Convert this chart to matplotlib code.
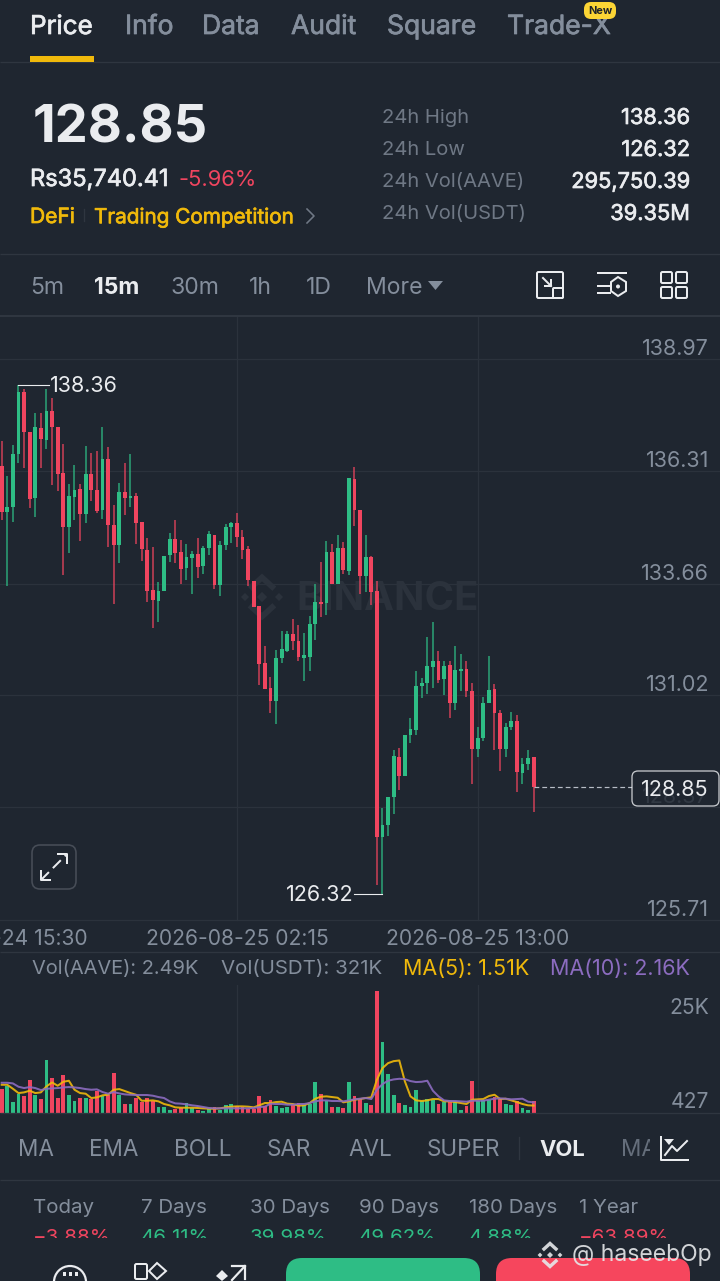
import matplotlib
matplotlib.use('Agg')
import matplotlib.pyplot as plt
import matplotlib.patheffects as pe
from matplotlib.patches import FancyBboxPatch, Polygon, Rectangle, Circle

plt.rcParams['font.family'] = ['Inter', 'DejaVu Sans']

# candles, 15m, oldest first
opens = [136.44, 135.36, 135.46, 136.72, 138.19, 137.25, 135.67, 137.33, 137.06, 137.73, 137.37, 136.27,
         134.99, 135.70, 135.90, 135.30, 136.25, 135.87, 135.40, 136.60, 135.04, 134.56, 135.83, 135.67,
         135.73, 135.12, 134.45, 133.51, 133.24, 133.49, 134.33, 134.71, 134.40, 134.02, 134.27, 134.36,
         134.08, 134.50, 134.81, 133.63, 134.57, 134.99, 135.10, 134.76, 134.47, 133.73, 133.12, 131.78,
         131.18, 130.89, 131.89, 132.07, 132.47, 132.31, 131.91, 131.93, 132.71, 133.23, 133.21, 134.41,
         133.64, 134.49, 133.95, 136.13, 135.40, 133.84, 134.29, 133.49, 127.68, 127.95, 128.62, 129.57,
         129.12, 130.09, 130.20, 131.24, 131.31, 131.68, 131.83, 131.40, 131.74, 130.83, 131.60, 131.64,
         131.12, 129.75, 130.01, 130.83, 131.16, 130.61, 129.75, 130.27, 130.40, 129.19, 129.39, 129.55]
closes = [135.36, 135.46, 136.72, 138.19, 137.25, 135.65, 137.35, 137.07, 137.73, 137.37, 136.25, 134.99,
          135.72, 135.87, 135.31, 136.25, 135.86, 135.38, 136.60, 135.05, 134.57, 135.83, 135.67, 135.72,
          135.10, 134.47, 133.49, 133.26, 133.49, 134.31, 134.71, 134.39, 134.01, 134.29, 134.36, 134.06,
          134.51, 134.83, 133.63, 134.57, 134.99, 135.10, 134.75, 134.46, 133.75, 133.10, 131.76, 131.17,
          130.89, 131.89, 132.11, 132.47, 132.31, 131.93, 131.97, 132.70, 133.23, 133.18, 134.41, 133.64,
          134.50, 133.97, 136.15, 135.40, 133.84, 134.29, 133.47, 127.68, 127.95, 128.62, 129.59, 129.12,
          130.08, 130.22, 131.24, 131.32, 131.70, 131.83, 131.39, 131.72, 130.83, 131.62, 131.65, 131.11,
          129.75, 130.01, 130.83, 131.15, 130.60, 129.75, 130.28, 130.41, 129.21, 129.40, 129.53, 128.85]
highs = [137.02, 136.20, 136.94, 138.36, 138.25, 137.25, 137.69, 137.69, 138.25, 138.04, 137.37, 136.96,
         136.01, 136.46, 136.02, 136.92, 136.74, 136.80, 137.35, 136.88, 135.52, 136.03, 136.50, 136.72,
         135.81, 135.12, 134.73, 134.53, 133.70, 134.31, 134.85, 135.16, 134.68, 134.60, 134.42, 134.73,
         134.55, 134.90, 134.81, 134.66, 135.06, 135.12, 135.32, 134.93, 134.55, 133.73, 133.12, 132.19,
         131.45, 132.09, 132.53, 132.53, 132.82, 132.68, 132.49, 132.90, 133.65, 134.16, 134.67, 134.59,
         134.80, 134.65, 136.15, 136.41, 135.40, 134.80, 134.31, 133.72, 128.35, 128.62, 129.73, 129.77,
         130.08, 130.48, 131.60, 131.42, 132.39, 132.76, 132.06, 131.83, 131.84, 132.19, 131.99, 131.83,
         131.31, 130.26, 130.98, 131.95, 131.28, 130.68, 130.36, 130.63, 130.55, 129.53, 129.73, 129.56]
lows = [135.16, 133.59, 135.11, 136.52, 136.40, 135.44, 135.23, 136.40, 136.85, 136.00, 135.85, 133.86,
        134.38, 135.16, 134.67, 135.10, 135.60, 135.32, 135.18, 134.52, 133.17, 134.14, 135.28, 135.48,
        134.59, 134.20, 133.23, 132.62, 132.74, 133.49, 134.16, 134.14, 133.65, 133.75, 133.41, 133.80,
        133.89, 134.34, 133.54, 133.36, 134.45, 134.61, 134.53, 134.24, 133.61, 133.10, 131.25, 131.17,
        130.61, 130.34, 131.78, 132.04, 132.09, 131.82, 131.36, 131.60, 132.33, 132.86, 132.91, 133.64,
        133.64, 133.89, 133.86, 135.02, 133.42, 133.46, 133.15, 126.53, 126.32, 127.69, 128.21, 128.78,
        129.12, 129.89, 130.08, 130.95, 131.05, 131.19, 131.31, 131.03, 130.47, 130.68, 131.11, 130.98,
        128.91, 129.55, 129.93, 130.83, 129.73, 129.24, 129.56, 130.20, 128.73, 128.93, 129.25, 128.26]

# volume in thousands of AAVE
volumes = [4.87, 5.55, 2.30, 3.86, 3.52, 6.77, 3.59, 2.78, 10.83, 7.11, 3.05, 7.79,
           3.72, 2.44, 3.05, 3.05, 2.91, 4.40, 3.52, 3.72, 8.12, 3.72, 1.90, 1.90,
           3.05, 2.23, 3.05, 2.37, 1.29, 1.22, 0.68, 0.88, 1.02, 2.03, 1.02, 0.68,
           0.47, 0.88, 1.29, 0.68, 1.69, 1.83, 1.35, 1.15, 0.74, 0.81, 3.45, 1.35,
           2.57, 1.49, 1.02, 1.29, 1.69, 2.03, 1.56, 1.83, 6.30, 3.86, 2.37, 1.22,
           1.29, 1.08, 6.23, 3.39, 2.84, 2.03, 1.56, 24.85, 14.56, 7.92, 3.59, 2.10,
           1.69, 1.22, 4.67, 2.37, 2.91, 2.71, 1.90, 2.23, 2.23, 2.37, 0.68, 1.35,
           6.57, 2.37, 2.71, 2.71, 3.18, 2.91, 1.90, 1.69, 2.37, 1.08, 0.68, 2.49]
ma5 = [5.75, 5.75, 4.94, 4.06, 4.20, 4.54, 4.06, 4.20, 5.42, 6.23, 5.55, 6.36,
       6.57, 4.74, 4.06, 3.93, 3.05, 3.18, 3.59, 3.72, 4.74, 4.87, 4.47, 4.06,
       3.72, 2.50, 2.50, 2.57, 2.37, 1.83, 1.56, 1.15, 1.08, 1.08, 1.08, 1.02,
       0.95, 0.88, 0.88, 0.95, 1.15, 1.29, 1.35, 1.35, 1.29, 1.15, 1.56, 2.03,
       2.03, 2.23, 2.30, 1.90, 1.83, 1.49, 1.56, 2.03, 2.91, 3.32, 3.39, 3.25,
       3.11, 2.17, 2.37, 2.71, 2.84, 3.05, 3.18, 6.77, 9.14, 10.16, 10.56, 10.70,
       6.43, 3.39, 2.57, 2.44, 2.57, 2.84, 2.84, 2.37, 2.37, 2.23, 2.03, 1.83,
       2.71, 2.78, 2.84, 3.45, 3.72, 2.84, 2.91, 2.57, 2.23, 1.83, 1.56, 1.51]
ma10 = [6.16, 6.16, 6.03, 5.35, 5.08, 5.28, 5.08, 4.67, 4.94, 5.01, 5.08, 5.21,
        5.28, 5.21, 5.08, 4.87, 4.74, 4.81, 4.27, 3.93, 4.27, 3.99, 3.79, 3.72,
        3.66, 3.66, 3.66, 3.52, 3.25, 3.05, 2.37, 1.96, 1.90, 1.76, 1.56, 1.42,
        1.22, 1.02, 0.95, 0.95, 0.95, 0.95, 0.95, 0.95, 0.95, 1.02, 1.22, 1.29,
        1.90, 1.83, 1.83, 1.69, 1.69, 1.83, 1.83, 2.03, 2.37, 2.57, 2.57, 2.44,
        2.44, 2.37, 2.57, 2.78, 2.91, 3.05, 2.84, 4.74, 5.89, 6.57, 6.84, 6.97,
        6.91, 6.50, 6.30, 6.36, 6.57, 4.54, 3.39, 2.57, 2.44, 2.44, 2.37, 2.30,
        2.50, 2.50, 2.50, 2.71, 2.91, 2.98, 2.91, 2.78, 2.84, 2.91, 2.30, 2.16]

price_ticks = [138.97, 136.31, 133.66, 131.02, 128.37, 125.71]
time_ticks = [-1, 42, 85]
time_labels = ['2026-08-24 15:30', '2026-08-25 02:15', '2026-08-25 13:00']
last_price = 128.85

tabs = ['Price', 'Info', 'Data', 'Audit', 'Square', 'Trade-X']
tab_x = [30, 125, 202, 291, 387, 507]
stat_names = ['24h High', '24h Low', '24h Vol(AAVE)', '24h Vol(USDT)']
stat_values = ['138.36', '126.32', '295,750.39', '39.35M']
intervals = ['5m', '15m', '30m', '1h', '1D', 'More']
interval_x = [30, 94, 171, 249, 306, 366]
indicators = ['MA', 'EMA', 'BOLL', 'SAR', 'AVL', 'SUPER', 'VOL', 'MA']
indicator_x = [18, 89, 174, 267, 348, 427, 539, 621]
periods = ['Today', '7 Days', '30 Days', '90 Days', '180 Days', '1 Year']
period_x = [33, 141, 250, 359, 469, 579]
period_changes = ['-3.88%', '46.11%', '39.98%', '49.62%', '4.88%', '-63.89%']

BG = '#1f2630'
GRID = '#2b323c'
LINE = '#2f3640'
GREEN = '#2ebd85'
RED = '#f0455f'
YELLOW = '#f0b90b'
PURPLE = '#8c6cc0'
WHITE = '#eaecef'
GREY = '#848e9c'
DIM = '#6f7885'

W, H = 720, 1281
fig = plt.figure(figsize=(W / 72, H / 72), dpi=72, facecolor=BG)


def panel(top, bottom, z):
    ax = fig.add_axes([0, 1 - bottom / H, 1, (bottom - top) / H], zorder=z)
    ax.patch.set_alpha(0)
    ax.axis('off')
    ax.set_xlim(-0.30, 128.27)
    return ax


def pixel_axes(z):
    ax = fig.add_axes([0, 0, 1, 1], zorder=z)
    ax.patch.set_alpha(0)
    ax.axis('off')
    ax.set_xlim(0, W)
    ax.set_ylim(H, 0)
    return ax


idx = range(len(opens))
colors = [GREEN if c >= o else RED for o, c in zip(opens, closes)]

# watermark sits under the candles
back = pixel_axes(1)
ui = pixel_axes(3)

# price panel
ax1 = panel(317, 952, 2)
ax1.set_ylim(124.95, 139.96)
for p in price_ticks:
    ax1.axhline(p, color=GRID, lw=1.3, zorder=1)
    ax1.annotate(f'{p:.2f}', (1, p), xycoords=('axes fraction', 'data'), xytext=(-11, 10),
                 textcoords='offset points', ha='right', va='center', fontsize=21.5, color=GREY)
for t in time_ticks[1:]:
    ax1.plot([t, t], [125.71, 139.96], color=GRID, lw=1.3, zorder=1)
for t, lab in zip(time_ticks, time_labels):
    ax1.annotate(lab, (t, 125.71), xytext=(0, -19), textcoords='offset points', ha='center',
                 va='center', fontsize=21, color=GREY, annotation_clip=False)

ax1.vlines(idx, lows, highs, colors=colors, lw=1.5, zorder=3, alpha=0.85)
ax1.bar(idx, [abs(c - o) for o, c in zip(opens, closes)], bottom=[min(o, c) for o, c in zip(opens, closes)],
        width=0.66, color=colors, zorder=4)

# high / low markers
i_hi = highs.index(max(highs))
i_lo = lows.index(min(lows))
ax1.plot([i_hi, i_hi + 5.4], [highs[i_hi]] * 2, color=WHITE, lw=1.1, zorder=5)
ax1.annotate(f'{highs[i_hi]:.2f}', (i_hi + 5.7, highs[i_hi]), xytext=(0, -1), textcoords='offset points',
             va='center', ha='left', fontsize=21.5, color=WHITE, zorder=5)
ax1.plot([i_lo - 5.1, i_lo], [lows[i_lo]] * 2, color=WHITE, lw=1.1, zorder=5)
ax1.annotate(f'{lows[i_lo]:.2f}', (i_lo - 5.2, lows[i_lo]), xytext=(0, -1), textcoords='offset points',
             va='center', ha='right', fontsize=21.5, color=WHITE, zorder=5)

# last price line
ax1.plot([95, 112.5], [last_price, last_price], color='#b7bdc6', lw=1.2, ls=(0, (4, 2.5)), zorder=5)

# volume panel
ax2 = panel(985, 1113, 2)
ax2.set_ylim(0, 26.07)
for t in time_ticks[1:]:
    ax2.axvline(t, color=GRID, lw=1.3, zorder=1)
ax2.bar(idx, volumes, width=0.66, color=colors, zorder=3)
ax2.plot(idx, ma5, color=YELLOW, lw=2, zorder=4, alpha=0.9)
ax2.plot(idx, ma10, color=PURPLE, lw=2, zorder=5, alpha=0.9)


def txt(x, y, s, size=20, color=GREY, ha='left', weight='normal', z=5, alpha=None, medium=False, ax=None):
    t = (ax or ui).text(x, y + 2, s, fontsize=size, color=color, ha=ha, va='center', weight=weight,
                        zorder=z, alpha=alpha)
    if medium:
        # no medium weight on hand, thicken the regular face a little
        t.set_path_effects([pe.withStroke(linewidth=0.7, foreground=color)])


def hline(y, x0=0, x1=W, lw=1.3, color=LINE):
    ui.plot([x0, x1], [y, y], color=color, lw=lw, zorder=2, solid_capstyle='butt')


def box(x0, y0, x1, y1, r=3, fc='none', ec=WHITE, lw=2, z=6, alpha=None):
    ui.add_patch(FancyBboxPatch((x0, y0), x1 - x0, y1 - y0, boxstyle=f'round,pad=0,rounding_size={r}',
                                fc=fc, ec=ec, lw=lw, zorder=z, alpha=alpha))


def logo(ax, cx, cy, s, color, z=3, alpha=None):
    # binance style diamond mark
    for dx, dy, r in [(0, 0, s * 0.3), (-s, 0, s * 0.24), (s, 0, s * 0.24)]:
        ax.add_patch(Polygon([(cx + dx, cy - r), (cx + dx + r, cy), (cx + dx, cy + r), (cx + dx - r, cy)],
                             fc=color, ec='none', zorder=z, alpha=alpha))
    for sgn in (-1, 1):
        ax.plot([cx - s * 0.6, cx, cx + s * 0.6], [cy + sgn * s * 0.6, cy + sgn * s * 1.15, cy + sgn * s * 0.6],
                color=color, lw=s * 0.34, zorder=z, alpha=alpha, solid_joinstyle='miter')


logo(back, 262, 597, 17, '#2b323c', z=1)
txt(296, 597, 'BINANCE', size=40, color='#2b323c', weight='bold', z=1, ax=back)

# tabs
for name, x in zip(tabs, tab_x):
    if name == 'Price':
        txt(x, 25, name, size=26, color=WHITE, medium=True)
    else:
        txt(x, 25, name, size=26.5, color=GREY, medium=True)
ui.add_patch(Rectangle((30, 56), 64, 6, fc=YELLOW, ec='none', zorder=4))
box(584, 2, 616, 19, r=7, fc='#fcd535', ec='none', lw=0)
txt(600, 9, 'New', size=11, color='#1e2329', ha='center', weight='bold', z=7)
hline(62)
hline(254)
hline(316, lw=2)
hline(952)
hline(1113)
hline(1180)

# headline numbers
txt(33, 127, '128.85', size=52.5, color=WHITE, weight='bold')
txt(30, 178, 'Rs35,740.41', size=23.6, color=WHITE, medium=True)
txt(178, 178, '-5.96%', size=22, color=RED)
txt(30, 215, 'DeFi', size=21, color=YELLOW, medium=True)
ui.plot([84, 84], [209, 221], color=LINE, lw=1.3)
txt(94, 215, 'Trading Competition', size=20.7, color=YELLOW, medium=True)
ui.plot([307, 314, 307], [209, 216, 223], color=DIM, lw=1.6)
for k, (name, val) in enumerate(zip(stat_names, stat_values)):
    txt(382, 116 + 32 * k, name, size=20.2, color=DIM)
    txt(690, 116 + 32 * k, val, size=21.8, color=WHITE, ha='right', medium=True)

# interval row
for name, x in zip(intervals, interval_x):
    if name == '15m':
        txt(x, 286, name, size=23, color=WHITE, weight='bold')
    else:
        txt(x, 286, name, size=23, color=GREY)
ui.add_patch(Polygon([(428, 281), (443, 281), (435.5, 290)], fc=GREY, ec='none', zorder=5))

box(537, 272, 563, 298, r=1.5)
box(553, 288, 563, 298, r=1, fc=BG)
ui.plot([543, 551], [278, 286], color=WHITE, lw=2, zorder=7)
ui.plot([545, 551, 551], [286, 286, 280], color=WHITE, lw=2, zorder=7)
ui.plot([598, 626], [273, 273], color=WHITE, lw=2)
ui.plot([598, 610], [286, 286], color=WHITE, lw=2)
ui.plot([598, 610], [293, 293], color=WHITE, lw=2)
ui.add_patch(Polygon([(618, 277), (626, 282), (626, 291), (618, 296), (611, 291), (611, 282)],
                     fc='none', ec=WHITE, lw=2, zorder=6))
ui.add_patch(Circle((618, 286.5), 2, fc=WHITE, ec='none', zorder=6))
for bx, by in [(661, 272), (676, 272), (661, 287), (676, 287)]:
    box(bx, by, bx + 11, by + 11, r=1.5)

# expand button
box(32, 845, 76, 889, r=8, fc=BG, ec='#474d57', lw=1.6)
ui.plot([41, 67], [880, 854], color=WHITE, lw=2, ls=(0, (5.6, 2.8)), zorder=7)
ui.plot([58, 67, 67], [854, 854, 863], color=WHITE, lw=2, zorder=7)
ui.plot([41, 41, 50], [871, 880, 880], color=WHITE, lw=2, zorder=7)

# last price tag
box(632, 771, 719, 806, r=6, fc=BG, ec=WHITE, lw=1.3, alpha=0.82)
txt(709, 788, '128.85', size=21.5, color=WHITE, ha='right', z=7)

# volume legend
txt(32, 967, 'Vol(AAVE): 2.49K', size=20)
txt(221, 967, 'Vol(USDT): 321K', size=20.5)
txt(403, 967, 'MA(5): 1.51K', size=21.5, color=YELLOW)
txt(550, 967, 'MA(10): 2.16K', size=21.5, color=PURPLE)
txt(709, 1006, '25K', size=21, ha='right')
txt(709, 1100, '427', size=21, ha='right')

# indicator row
for k, (name, x) in enumerate(zip(indicators, indicator_x)):
    if name == 'VOL':
        txt(x, 1148, name, size=22, color=WHITE, weight='bold')
    elif k == len(indicators) - 1:
        txt(x, 1148, name, size=22.5, color=GREY, alpha=0.7)
    else:
        txt(x, 1148, name, size=22.5)
ui.plot([519, 519], [1137, 1159], color=LINE, lw=1.3)
ui.add_patch(Rectangle((650, 1130), 42, 36, fc=BG, ec='none', zorder=6))
ui.plot([661, 661, 688], [1137, 1160, 1160], color=WHITE, lw=2, zorder=7)
ui.plot([665, 672, 677, 687], [1155, 1146, 1151, 1141], color=WHITE, lw=2, zorder=7)
ui.add_patch(Polygon([(664, 1139), (674, 1139), (669, 1145)], fc=WHITE, ec='none', zorder=7))

# returns row, second line is cut by the action bar
for name, x, change in zip(periods, period_x, period_changes):
    txt(x, 1206, name, size=20.5, color=GREY)
    txt(x, 1236, change.replace('-', '\u2212'), size=20.5, color=RED if change[0] == '-' else GREEN, z=4)
ui.add_patch(Rectangle((0, 1238), W, 43, fc=BG, ec='none', zorder=5))

# action bar, runs off the bottom
box(286, 1258, 480, 1300, r=16, fc='#2ebd85', ec='none', lw=0)
box(496, 1258, 690, 1300, r=16, fc='#f6465d', ec='none', lw=0)
ui.add_patch(Circle((70, 1282), 16, fc='none', ec=WHITE, lw=2.2, zorder=6, clip_on=True))
for dx in (-6, 0, 6):
    ui.add_patch(Rectangle((70 + dx - 1.5, 1272), 3, 4, fc=WHITE, ec='none', zorder=6))
box(135, 1264, 147, 1279, r=1.5)
ui.add_patch(Polygon([(157, 1263), (166, 1271), (157, 1279), (149, 1271)], fc='none', ec=WHITE, lw=2, zorder=6))
ui.add_patch(Polygon([(222, 1270), (228, 1276), (222, 1281), (216, 1276)], fc=WHITE, ec='none', zorder=6))
ui.plot([232, 245], [1280, 1266], color=WHITE, lw=2.2, zorder=6)
ui.plot([232, 245, 245], [1266, 1266, 1279], color=WHITE, lw=2.2, zorder=6)

# user watermark
logo(ui, 550, 1255, 10, '#e6e8ea', z=8, alpha=0.9)
txt(572, 1253, '@ haseebOp', size=23, color='#e6e8ea', z=8, alpha=0.9)

fig.savefig('out.png', dpi=72, facecolor=BG)
